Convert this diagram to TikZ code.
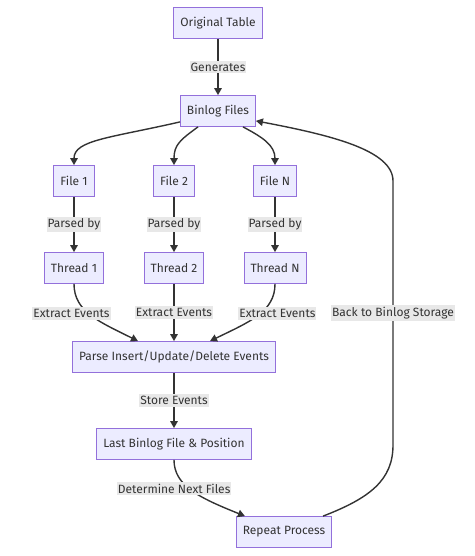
\documentclass[tikz,border=0pt]{standalone}
\usepackage{fontspec}
\setmainfont{Fira Sans}
\usetikzlibrary{positioning,arrows.meta,calc}

\definecolor{boxfill}{HTML}{ECECFF}
\definecolor{boxline}{HTML}{9370DB}
\definecolor{edgeline}{HTML}{333333}
\definecolor{lblfill}{HTML}{E8E8E8}

\begin{document}
\begin{tikzpicture}[
  x=1pt, y=-1pt,
  font=\fontsize{12}{14}\selectfont,
  >={Triangle[length=7pt, width=7.5pt]},
  box/.style={draw=boxline, fill=boxfill, line width=0.8pt, text=edgeline,
              minimum height=31pt, inner xsep=6.5pt},
  flow/.style={->, draw=edgeline, line width=1.4pt},
  lbl/.style={fill=lblfill, text=edgeline, inner xsep=1pt, inner ysep=2pt},
]
\useasboundingbox (0,0) rectangle (474,556);

% ---- source and binlog ----
\node[box] (orig)   at (218,23)  {Original Table};
\node[box] (binlog) at (218,111) {Binlog Files};

% ---- files and threads ----
\node[box] (f1) at (74,181)  {File 1};
\node[box] (f2) at (174,181) {File 2};
\node[box] (fn) at (275,181) {File N};
\node[box] (t1) at (74,268)  {Thread 1};
\node[box] (t2) at (174,268) {Thread 2};
\node[box] (tn) at (275,268) {Thread N};

% ---- parsing and position ----
\node[box] (parse) at (174,357) {Parse Insert/Update/Delete Events};
\node[box] (last)  at (174,444) {Last Binlog File \& Position};
\node[box] (rep)   at (284,532) {Repeat Process};

% ---- loop bends ----
\coordinate (b1) at (393,445);
\coordinate (b2) at (393,181);

% ---- edges ----
\draw[flow] (orig) -- node[lbl]{Generates} (binlog);

\draw[flow] ($(binlog.south west)+(0,-5)$) .. controls (110,138) and (74,140) .. (f1.north);
\draw[flow] ($(binlog.south)+(-20,0)$) .. controls (180,140) and (174,145) .. (f2.north);
\draw[flow] ($(binlog.south)+(25,0)$) .. controls (262,137) and (275,145) .. (fn.north);

\draw[flow] (f1) -- node[lbl]{Parsed by} (t1);
\draw[flow] (f2) -- node[lbl]{Parsed by} (t2);
\draw[flow] (fn) -- node[lbl]{Parsed by} (tn);

\draw[flow] (t1.south) .. controls (74,312) and (100,322) ..
  node[lbl, pos=0.45, xshift=-17pt]{Extract Events} ($(parse.north)+(-36,0)$);
\draw[flow] (t2) -- node[lbl]{Extract Events} (parse);
\draw[flow] (tn.south) .. controls (275,312) and (249,322) ..
  node[lbl, pos=0.45, xshift=17pt]{Extract Events} ($(parse.north)+(36,0)$);

\draw[flow] (parse) -- node[lbl]{Store Events} (last);

\draw[flow] (last.south) .. controls (174,486) and (200,498) ..
  node[lbl, pos=0.45, xshift=-15pt]{Determine Next Files} ($(rep.north west)+(9,0)$);

\draw[flow] ($(rep.north east)+(-9,0)$) .. controls (370,498) and (393,480) .. (b1)
  -- node[lbl]{Back to Binlog Storage} (b2)
  .. controls (393,150) and (330,135) .. ($(binlog.south east)+(0,-6)$);
\end{tikzpicture}
\end{document}
